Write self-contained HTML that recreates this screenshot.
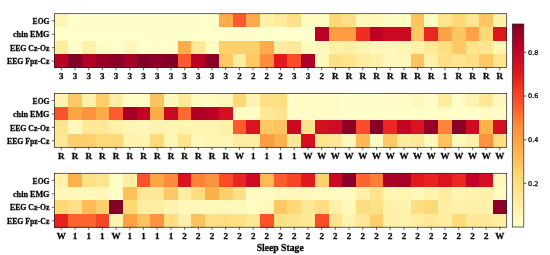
<!DOCTYPE html>
<html><head><meta charset="utf-8"><title>Sleep Stage attention heatmap</title>
<style>
html,body{margin:0;padding:0;background:#fff;}
body{width:550px;height:255px;overflow:hidden;}
svg{display:block;}
svg text{font-family:"Liberation Serif","DejaVu Serif",serif;font-weight:bold;fill:#0a0a0a;stroke:#0a0a0a;stroke-width:0.3px;}
.cb text{font-family:"DejaVu Sans","Liberation Sans",sans-serif;font-weight:normal;stroke:#111;stroke-width:0.3px;}
</style></head><body>
<svg width="550" height="255" viewBox="0 0 550 255">
<defs><linearGradient id="g" x1="0" y1="1" x2="0" y2="0"><stop offset="0.0000" stop-color="#ffffcc"/><stop offset="0.1250" stop-color="#ffeda0"/><stop offset="0.2500" stop-color="#fed976"/><stop offset="0.3750" stop-color="#feb24c"/><stop offset="0.5000" stop-color="#fd8d3c"/><stop offset="0.6250" stop-color="#fc4e2a"/><stop offset="0.7500" stop-color="#e31a1c"/><stop offset="0.8750" stop-color="#bd0026"/><stop offset="1.0000" stop-color="#800026"/></linearGradient></defs>
<rect width="550" height="255" fill="#fff"/>
<g class="panel p1">
<g shape-rendering="crispEdges">
<rect x="54.40" y="13.70" width="14.01" height="13.78" fill="#fff5b3"/><rect x="54.40" y="27.17" width="14.01" height="13.78" fill="#ffffcc"/><rect x="54.40" y="40.65" width="14.01" height="13.78" fill="#ffec9e"/><rect x="54.40" y="54.12" width="14.01" height="13.78" fill="#bb0026"/>
<rect x="68.11" y="13.70" width="14.01" height="13.78" fill="#ffffcc"/><rect x="68.11" y="27.17" width="14.01" height="13.78" fill="#ffffcc"/><rect x="68.11" y="40.65" width="14.01" height="13.78" fill="#ffffcc"/><rect x="68.11" y="54.12" width="14.01" height="13.78" fill="#800026"/>
<rect x="81.81" y="13.70" width="14.01" height="13.78" fill="#ffffcc"/><rect x="81.81" y="27.17" width="14.01" height="13.78" fill="#ffffcc"/><rect x="81.81" y="40.65" width="14.01" height="13.78" fill="#fff1a9"/><rect x="81.81" y="54.12" width="14.01" height="13.78" fill="#b10026"/>
<rect x="95.52" y="13.70" width="14.01" height="13.78" fill="#ffffcc"/><rect x="95.52" y="27.17" width="14.01" height="13.78" fill="#ffffcc"/><rect x="95.52" y="40.65" width="14.01" height="13.78" fill="#fffcc5"/><rect x="95.52" y="54.12" width="14.01" height="13.78" fill="#980026"/>
<rect x="109.22" y="13.70" width="14.01" height="13.78" fill="#ffffcc"/><rect x="109.22" y="27.17" width="14.01" height="13.78" fill="#ffffcc"/><rect x="109.22" y="40.65" width="14.01" height="13.78" fill="#ffffcc"/><rect x="109.22" y="54.12" width="14.01" height="13.78" fill="#8a0026"/>
<rect x="122.93" y="13.70" width="14.01" height="13.78" fill="#ffffcc"/><rect x="122.93" y="27.17" width="14.01" height="13.78" fill="#ffffcc"/><rect x="122.93" y="40.65" width="14.01" height="13.78" fill="#fff8ba"/><rect x="122.93" y="54.12" width="14.01" height="13.78" fill="#a20026"/>
<rect x="136.64" y="13.70" width="14.01" height="13.78" fill="#ffffcc"/><rect x="136.64" y="27.17" width="14.01" height="13.78" fill="#ffffcc"/><rect x="136.64" y="40.65" width="14.01" height="13.78" fill="#ffffcc"/><rect x="136.64" y="54.12" width="14.01" height="13.78" fill="#800026"/>
<rect x="150.34" y="13.70" width="14.01" height="13.78" fill="#ffffcc"/><rect x="150.34" y="27.17" width="14.01" height="13.78" fill="#ffffcc"/><rect x="150.34" y="40.65" width="14.01" height="13.78" fill="#fffec8"/><rect x="150.34" y="54.12" width="14.01" height="13.78" fill="#8a0026"/>
<rect x="164.05" y="13.70" width="14.01" height="13.78" fill="#ffffcc"/><rect x="164.05" y="27.17" width="14.01" height="13.78" fill="#ffffcc"/><rect x="164.05" y="40.65" width="14.01" height="13.78" fill="#ffffcc"/><rect x="164.05" y="54.12" width="14.01" height="13.78" fill="#800026"/>
<rect x="177.75" y="13.70" width="14.01" height="13.78" fill="#ffffcc"/><rect x="177.75" y="27.17" width="14.01" height="13.78" fill="#ffffcc"/><rect x="177.75" y="40.65" width="14.01" height="13.78" fill="#feab49"/><rect x="177.75" y="54.12" width="14.01" height="13.78" fill="#fc5b2e"/>
<rect x="191.46" y="13.70" width="14.01" height="13.78" fill="#ffffcc"/><rect x="191.46" y="27.17" width="14.01" height="13.78" fill="#ffffcc"/><rect x="191.46" y="40.65" width="14.01" height="13.78" fill="#ffe998"/><rect x="191.46" y="54.12" width="14.01" height="13.78" fill="#bb0026"/>
<rect x="205.17" y="13.70" width="14.01" height="13.78" fill="#ffffcc"/><rect x="205.17" y="27.17" width="14.01" height="13.78" fill="#ffffcc"/><rect x="205.17" y="40.65" width="14.01" height="13.78" fill="#fffbc1"/><rect x="205.17" y="54.12" width="14.01" height="13.78" fill="#8a0026"/>
<rect x="218.87" y="13.70" width="14.01" height="13.78" fill="#feab49"/><rect x="218.87" y="27.17" width="14.01" height="13.78" fill="#ffffcc"/><rect x="218.87" y="40.65" width="14.01" height="13.78" fill="#fed06c"/><rect x="218.87" y="54.12" width="14.01" height="13.78" fill="#fec965"/>
<rect x="232.58" y="13.70" width="14.01" height="13.78" fill="#fc5b2e"/><rect x="232.58" y="27.17" width="14.01" height="13.78" fill="#ffffcc"/><rect x="232.58" y="40.65" width="14.01" height="13.78" fill="#fed06c"/><rect x="232.58" y="54.12" width="14.01" height="13.78" fill="#ffec9e"/>
<rect x="246.28" y="13.70" width="14.01" height="13.78" fill="#feab49"/><rect x="246.28" y="27.17" width="14.01" height="13.78" fill="#ffffcc"/><rect x="246.28" y="40.65" width="14.01" height="13.78" fill="#fed06c"/><rect x="246.28" y="54.12" width="14.01" height="13.78" fill="#fec965"/>
<rect x="259.99" y="13.70" width="14.01" height="13.78" fill="#fff1a9"/><rect x="259.99" y="27.17" width="14.01" height="13.78" fill="#ffffcc"/><rect x="259.99" y="40.65" width="14.01" height="13.78" fill="#feab49"/><rect x="259.99" y="54.12" width="14.01" height="13.78" fill="#fd8d3c"/>
<rect x="273.70" y="13.70" width="14.01" height="13.78" fill="#ffeb9b"/><rect x="273.70" y="27.17" width="14.01" height="13.78" fill="#ffffcc"/><rect x="273.70" y="40.65" width="14.01" height="13.78" fill="#ffeea2"/><rect x="273.70" y="54.12" width="14.01" height="13.78" fill="#e31a1c"/>
<rect x="287.40" y="13.70" width="14.01" height="13.78" fill="#fee187"/><rect x="287.40" y="27.17" width="14.01" height="13.78" fill="#ffffcc"/><rect x="287.40" y="40.65" width="14.01" height="13.78" fill="#ffe998"/><rect x="287.40" y="54.12" width="14.01" height="13.78" fill="#fb4c29"/>
<rect x="301.11" y="13.70" width="14.01" height="13.78" fill="#fffbc1"/><rect x="301.11" y="27.17" width="14.01" height="13.78" fill="#ffffcc"/><rect x="301.11" y="40.65" width="14.01" height="13.78" fill="#fffbc1"/><rect x="301.11" y="54.12" width="14.01" height="13.78" fill="#b10026"/>
<rect x="314.82" y="13.70" width="14.01" height="13.78" fill="#fffbc1"/><rect x="314.82" y="27.17" width="14.01" height="13.78" fill="#bb0026"/><rect x="314.82" y="40.65" width="14.01" height="13.78" fill="#fff8ba"/><rect x="314.82" y="54.12" width="14.01" height="13.78" fill="#fff8ba"/>
<rect x="328.52" y="13.70" width="14.01" height="13.78" fill="#fed976"/><rect x="328.52" y="27.17" width="14.01" height="13.78" fill="#fd9c42"/><rect x="328.52" y="40.65" width="14.01" height="13.78" fill="#fff1a9"/><rect x="328.52" y="54.12" width="14.01" height="13.78" fill="#fee187"/>
<rect x="342.23" y="13.70" width="14.01" height="13.78" fill="#fee187"/><rect x="342.23" y="27.17" width="14.01" height="13.78" fill="#fd9c42"/><rect x="342.23" y="40.65" width="14.01" height="13.78" fill="#ffeea2"/><rect x="342.23" y="54.12" width="14.01" height="13.78" fill="#ffe48e"/>
<rect x="355.93" y="13.70" width="14.01" height="13.78" fill="#fff8ba"/><rect x="355.93" y="27.17" width="14.01" height="13.78" fill="#ed2f22"/><rect x="355.93" y="40.65" width="14.01" height="13.78" fill="#fff3b0"/><rect x="355.93" y="54.12" width="14.01" height="13.78" fill="#ffec9e"/>
<rect x="369.64" y="13.70" width="14.01" height="13.78" fill="#fff8ba"/><rect x="369.64" y="27.17" width="14.01" height="13.78" fill="#bb0026"/><rect x="369.64" y="40.65" width="14.01" height="13.78" fill="#fff8ba"/><rect x="369.64" y="54.12" width="14.01" height="13.78" fill="#fff1a9"/>
<rect x="383.35" y="13.70" width="14.01" height="13.78" fill="#fffbc1"/><rect x="383.35" y="27.17" width="14.01" height="13.78" fill="#cb0922"/><rect x="383.35" y="40.65" width="14.01" height="13.78" fill="#fff8ba"/><rect x="383.35" y="54.12" width="14.01" height="13.78" fill="#fff8ba"/>
<rect x="397.05" y="13.70" width="14.01" height="13.78" fill="#fffbc1"/><rect x="397.05" y="27.17" width="14.01" height="13.78" fill="#cb0922"/><rect x="397.05" y="40.65" width="14.01" height="13.78" fill="#fff5b3"/><rect x="397.05" y="54.12" width="14.01" height="13.78" fill="#fff8ba"/>
<rect x="410.76" y="13.70" width="14.01" height="13.78" fill="#fec35e"/><rect x="410.76" y="27.17" width="14.01" height="13.78" fill="#fec965"/><rect x="410.76" y="40.65" width="14.01" height="13.78" fill="#fff1a9"/><rect x="410.76" y="54.12" width="14.01" height="13.78" fill="#fec35e"/>
<rect x="424.46" y="13.70" width="14.01" height="13.78" fill="#fffbc1"/><rect x="424.46" y="27.17" width="14.01" height="13.78" fill="#e9261f"/><rect x="424.46" y="40.65" width="14.01" height="13.78" fill="#ffe998"/><rect x="424.46" y="54.12" width="14.01" height="13.78" fill="#fff1a9"/>
<rect x="438.17" y="13.70" width="14.01" height="13.78" fill="#ffe48e"/><rect x="438.17" y="27.17" width="14.01" height="13.78" fill="#fea245"/><rect x="438.17" y="40.65" width="14.01" height="13.78" fill="#fede80"/><rect x="438.17" y="54.12" width="14.01" height="13.78" fill="#fedf83"/>
<rect x="451.88" y="13.70" width="14.01" height="13.78" fill="#fed976"/><rect x="451.88" y="27.17" width="14.01" height="13.78" fill="#fec662"/><rect x="451.88" y="40.65" width="14.01" height="13.78" fill="#fec965"/><rect x="451.88" y="54.12" width="14.01" height="13.78" fill="#ffe48e"/>
<rect x="465.58" y="13.70" width="14.01" height="13.78" fill="#ffe691"/><rect x="465.58" y="27.17" width="14.01" height="13.78" fill="#fea245"/><rect x="465.58" y="40.65" width="14.01" height="13.78" fill="#ffe48e"/><rect x="465.58" y="54.12" width="14.01" height="13.78" fill="#fedf83"/>
<rect x="479.29" y="13.70" width="14.01" height="13.78" fill="#fec662"/><rect x="479.29" y="27.17" width="14.01" height="13.78" fill="#fed976"/><rect x="479.29" y="40.65" width="14.01" height="13.78" fill="#ffe691"/><rect x="479.29" y="54.12" width="14.01" height="13.78" fill="#fec965"/>
<rect x="492.99" y="13.70" width="14.01" height="13.78" fill="#fff1a9"/><rect x="492.99" y="27.17" width="14.01" height="13.78" fill="#dd161e"/><rect x="492.99" y="40.65" width="14.01" height="13.78" fill="#fff5b3"/><rect x="492.99" y="54.12" width="14.01" height="13.78" fill="#ffe48e"/>
</g>
<rect x="54.4" y="13.7" width="452.30" height="53.9" fill="none" stroke="#222" stroke-width="0.7"/>
<line x1="51.8" y1="20.74" x2="54.4" y2="20.74" stroke="#222" stroke-width="0.7"/><text x="32.60" y="23.94" textLength="16.8" lengthAdjust="spacingAndGlyphs" font-size="8.5">EOG</text>
<line x1="51.8" y1="34.21" x2="54.4" y2="34.21" stroke="#222" stroke-width="0.7"/><text x="13.00" y="37.41" textLength="36.4" lengthAdjust="spacingAndGlyphs" font-size="8.5">chin EMG</text>
<line x1="51.8" y1="47.69" x2="54.4" y2="47.69" stroke="#222" stroke-width="0.7"/><text x="10.00" y="50.89" textLength="39.4" lengthAdjust="spacingAndGlyphs" font-size="8.5">EEG Cz-Oz</text>
<line x1="51.8" y1="61.16" x2="54.4" y2="61.16" stroke="#222" stroke-width="0.7"/><text x="7.00" y="64.36" textLength="42.4" lengthAdjust="spacingAndGlyphs" font-size="8.5">EEG Fpz-Cz</text>
<line x1="61.25" y1="67.6" x2="61.25" y2="70.19999999999999" stroke="#222" stroke-width="0.7"/><text x="61.25" y="79.30" text-anchor="middle" font-size="9.0">3</text>
<line x1="74.96" y1="67.6" x2="74.96" y2="70.19999999999999" stroke="#222" stroke-width="0.7"/><text x="74.96" y="79.30" text-anchor="middle" font-size="9.0">3</text>
<line x1="88.67" y1="67.6" x2="88.67" y2="70.19999999999999" stroke="#222" stroke-width="0.7"/><text x="88.67" y="79.30" text-anchor="middle" font-size="9.0">3</text>
<line x1="102.37" y1="67.6" x2="102.37" y2="70.19999999999999" stroke="#222" stroke-width="0.7"/><text x="102.37" y="79.30" text-anchor="middle" font-size="9.0">3</text>
<line x1="116.08" y1="67.6" x2="116.08" y2="70.19999999999999" stroke="#222" stroke-width="0.7"/><text x="116.08" y="79.30" text-anchor="middle" font-size="9.0">3</text>
<line x1="129.78" y1="67.6" x2="129.78" y2="70.19999999999999" stroke="#222" stroke-width="0.7"/><text x="129.78" y="79.30" text-anchor="middle" font-size="9.0">3</text>
<line x1="143.49" y1="67.6" x2="143.49" y2="70.19999999999999" stroke="#222" stroke-width="0.7"/><text x="143.49" y="79.30" text-anchor="middle" font-size="9.0">3</text>
<line x1="157.20" y1="67.6" x2="157.20" y2="70.19999999999999" stroke="#222" stroke-width="0.7"/><text x="157.20" y="79.30" text-anchor="middle" font-size="9.0">3</text>
<line x1="170.90" y1="67.6" x2="170.90" y2="70.19999999999999" stroke="#222" stroke-width="0.7"/><text x="170.90" y="79.30" text-anchor="middle" font-size="9.0">3</text>
<line x1="184.61" y1="67.6" x2="184.61" y2="70.19999999999999" stroke="#222" stroke-width="0.7"/><text x="184.61" y="79.30" text-anchor="middle" font-size="9.0">3</text>
<line x1="198.31" y1="67.6" x2="198.31" y2="70.19999999999999" stroke="#222" stroke-width="0.7"/><text x="198.31" y="79.30" text-anchor="middle" font-size="9.0">3</text>
<line x1="212.02" y1="67.6" x2="212.02" y2="70.19999999999999" stroke="#222" stroke-width="0.7"/><text x="212.02" y="79.30" text-anchor="middle" font-size="9.0">3</text>
<line x1="225.73" y1="67.6" x2="225.73" y2="70.19999999999999" stroke="#222" stroke-width="0.7"/><text x="225.73" y="79.30" text-anchor="middle" font-size="9.0">3</text>
<line x1="239.43" y1="67.6" x2="239.43" y2="70.19999999999999" stroke="#222" stroke-width="0.7"/><text x="239.43" y="79.30" text-anchor="middle" font-size="9.0">2</text>
<line x1="253.14" y1="67.6" x2="253.14" y2="70.19999999999999" stroke="#222" stroke-width="0.7"/><text x="253.14" y="79.30" text-anchor="middle" font-size="9.0">2</text>
<line x1="266.84" y1="67.6" x2="266.84" y2="70.19999999999999" stroke="#222" stroke-width="0.7"/><text x="266.84" y="79.30" text-anchor="middle" font-size="9.0">2</text>
<line x1="280.55" y1="67.6" x2="280.55" y2="70.19999999999999" stroke="#222" stroke-width="0.7"/><text x="280.55" y="79.30" text-anchor="middle" font-size="9.0">2</text>
<line x1="294.26" y1="67.6" x2="294.26" y2="70.19999999999999" stroke="#222" stroke-width="0.7"/><text x="294.26" y="79.30" text-anchor="middle" font-size="9.0">3</text>
<line x1="307.96" y1="67.6" x2="307.96" y2="70.19999999999999" stroke="#222" stroke-width="0.7"/><text x="307.96" y="79.30" text-anchor="middle" font-size="9.0">3</text>
<line x1="321.67" y1="67.6" x2="321.67" y2="70.19999999999999" stroke="#222" stroke-width="0.7"/><text x="321.67" y="79.30" text-anchor="middle" font-size="9.0">2</text>
<line x1="335.37" y1="67.6" x2="335.37" y2="70.19999999999999" stroke="#222" stroke-width="0.7"/><text x="335.37" y="79.30" text-anchor="middle" font-size="9.0">R</text>
<line x1="349.08" y1="67.6" x2="349.08" y2="70.19999999999999" stroke="#222" stroke-width="0.7"/><text x="349.08" y="79.30" text-anchor="middle" font-size="9.0">R</text>
<line x1="362.79" y1="67.6" x2="362.79" y2="70.19999999999999" stroke="#222" stroke-width="0.7"/><text x="362.79" y="79.30" text-anchor="middle" font-size="9.0">R</text>
<line x1="376.49" y1="67.6" x2="376.49" y2="70.19999999999999" stroke="#222" stroke-width="0.7"/><text x="376.49" y="79.30" text-anchor="middle" font-size="9.0">R</text>
<line x1="390.20" y1="67.6" x2="390.20" y2="70.19999999999999" stroke="#222" stroke-width="0.7"/><text x="390.20" y="79.30" text-anchor="middle" font-size="9.0">R</text>
<line x1="403.90" y1="67.6" x2="403.90" y2="70.19999999999999" stroke="#222" stroke-width="0.7"/><text x="403.90" y="79.30" text-anchor="middle" font-size="9.0">R</text>
<line x1="417.61" y1="67.6" x2="417.61" y2="70.19999999999999" stroke="#222" stroke-width="0.7"/><text x="417.61" y="79.30" text-anchor="middle" font-size="9.0">R</text>
<line x1="431.32" y1="67.6" x2="431.32" y2="70.19999999999999" stroke="#222" stroke-width="0.7"/><text x="431.32" y="79.30" text-anchor="middle" font-size="9.0">R</text>
<line x1="445.02" y1="67.6" x2="445.02" y2="70.19999999999999" stroke="#222" stroke-width="0.7"/><text x="445.02" y="79.30" text-anchor="middle" font-size="9.0">1</text>
<line x1="458.73" y1="67.6" x2="458.73" y2="70.19999999999999" stroke="#222" stroke-width="0.7"/><text x="458.73" y="79.30" text-anchor="middle" font-size="9.0">R</text>
<line x1="472.43" y1="67.6" x2="472.43" y2="70.19999999999999" stroke="#222" stroke-width="0.7"/><text x="472.43" y="79.30" text-anchor="middle" font-size="9.0">R</text>
<line x1="486.14" y1="67.6" x2="486.14" y2="70.19999999999999" stroke="#222" stroke-width="0.7"/><text x="486.14" y="79.30" text-anchor="middle" font-size="9.0">R</text>
<line x1="499.85" y1="67.6" x2="499.85" y2="70.19999999999999" stroke="#222" stroke-width="0.7"/><text x="499.85" y="79.30" text-anchor="middle" font-size="9.0">R</text>
</g>
<g class="panel p2">
<g shape-rendering="crispEdges">
<rect x="54.40" y="93.40" width="14.01" height="13.78" fill="#fff3b0"/><rect x="54.40" y="106.88" width="14.01" height="13.78" fill="#fc512b"/><rect x="54.40" y="120.35" width="14.01" height="13.78" fill="#ffe48e"/><rect x="54.40" y="133.82" width="14.01" height="13.78" fill="#ffe998"/>
<rect x="68.11" y="93.40" width="14.01" height="13.78" fill="#fec965"/><rect x="68.11" y="106.88" width="14.01" height="13.78" fill="#fea546"/><rect x="68.11" y="120.35" width="14.01" height="13.78" fill="#fff8ba"/><rect x="68.11" y="133.82" width="14.01" height="13.78" fill="#fed06c"/>
<rect x="81.81" y="93.40" width="14.01" height="13.78" fill="#fff1a9"/><rect x="81.81" y="106.88" width="14.01" height="13.78" fill="#fd933f"/><rect x="81.81" y="120.35" width="14.01" height="13.78" fill="#ffe998"/><rect x="81.81" y="133.82" width="14.01" height="13.78" fill="#fed06c"/>
<rect x="95.52" y="93.40" width="14.01" height="13.78" fill="#fed06c"/><rect x="95.52" y="106.88" width="14.01" height="13.78" fill="#feab49"/><rect x="95.52" y="120.35" width="14.01" height="13.78" fill="#ffe998"/><rect x="95.52" y="133.82" width="14.01" height="13.78" fill="#fed976"/>
<rect x="109.22" y="93.40" width="14.01" height="13.78" fill="#ffeea2"/><rect x="109.22" y="106.88" width="14.01" height="13.78" fill="#fc5b2e"/><rect x="109.22" y="120.35" width="14.01" height="13.78" fill="#fff1a9"/><rect x="109.22" y="133.82" width="14.01" height="13.78" fill="#fed976"/>
<rect x="122.93" y="93.40" width="14.01" height="13.78" fill="#fffcc5"/><rect x="122.93" y="106.88" width="14.01" height="13.78" fill="#a70026"/><rect x="122.93" y="120.35" width="14.01" height="13.78" fill="#fff5b3"/><rect x="122.93" y="133.82" width="14.01" height="13.78" fill="#fff3b0"/>
<rect x="136.64" y="93.40" width="14.01" height="13.78" fill="#fffcc5"/><rect x="136.64" y="106.88" width="14.01" height="13.78" fill="#c20325"/><rect x="136.64" y="120.35" width="14.01" height="13.78" fill="#fff8ba"/><rect x="136.64" y="133.82" width="14.01" height="13.78" fill="#fff3b0"/>
<rect x="150.34" y="93.40" width="14.01" height="13.78" fill="#fec35e"/><rect x="150.34" y="106.88" width="14.01" height="13.78" fill="#feab49"/><rect x="150.34" y="120.35" width="14.01" height="13.78" fill="#fff3b0"/><rect x="150.34" y="133.82" width="14.01" height="13.78" fill="#fed976"/>
<rect x="164.05" y="93.40" width="14.01" height="13.78" fill="#fff8ba"/><rect x="164.05" y="106.88" width="14.01" height="13.78" fill="#cb0922"/><rect x="164.05" y="120.35" width="14.01" height="13.78" fill="#fff5b3"/><rect x="164.05" y="133.82" width="14.01" height="13.78" fill="#fff5b3"/>
<rect x="177.75" y="93.40" width="14.01" height="13.78" fill="#ffe998"/><rect x="177.75" y="106.88" width="14.01" height="13.78" fill="#fc6a32"/><rect x="177.75" y="120.35" width="14.01" height="13.78" fill="#fff5b3"/><rect x="177.75" y="133.82" width="14.01" height="13.78" fill="#ffe48e"/>
<rect x="191.46" y="93.40" width="14.01" height="13.78" fill="#fffbc1"/><rect x="191.46" y="106.88" width="14.01" height="13.78" fill="#b10026"/><rect x="191.46" y="120.35" width="14.01" height="13.78" fill="#fff5b3"/><rect x="191.46" y="133.82" width="14.01" height="13.78" fill="#fff8ba"/>
<rect x="205.17" y="93.40" width="14.01" height="13.78" fill="#fffbc1"/><rect x="205.17" y="106.88" width="14.01" height="13.78" fill="#bb0026"/><rect x="205.17" y="120.35" width="14.01" height="13.78" fill="#fff5b3"/><rect x="205.17" y="133.82" width="14.01" height="13.78" fill="#fff5b3"/>
<rect x="218.87" y="93.40" width="14.01" height="13.78" fill="#fff8ba"/><rect x="218.87" y="106.88" width="14.01" height="13.78" fill="#d41020"/><rect x="218.87" y="120.35" width="14.01" height="13.78" fill="#fff1a9"/><rect x="218.87" y="133.82" width="14.01" height="13.78" fill="#fff5b3"/>
<rect x="232.58" y="93.40" width="14.01" height="13.78" fill="#fed976"/><rect x="232.58" y="106.88" width="14.01" height="13.78" fill="#fffbc1"/><rect x="232.58" y="120.35" width="14.01" height="13.78" fill="#fc5b2e"/><rect x="232.58" y="133.82" width="14.01" height="13.78" fill="#ffeea2"/>
<rect x="246.28" y="93.40" width="14.01" height="13.78" fill="#fff3b0"/><rect x="246.28" y="106.88" width="14.01" height="13.78" fill="#fffcc5"/><rect x="246.28" y="120.35" width="14.01" height="13.78" fill="#da141e"/><rect x="246.28" y="133.82" width="14.01" height="13.78" fill="#ffeea2"/>
<rect x="259.99" y="93.40" width="14.01" height="13.78" fill="#fee187"/><rect x="259.99" y="106.88" width="14.01" height="13.78" fill="#ffe998"/><rect x="259.99" y="120.35" width="14.01" height="13.78" fill="#fec965"/><rect x="259.99" y="133.82" width="14.01" height="13.78" fill="#fd9c42"/>
<rect x="273.70" y="93.40" width="14.01" height="13.78" fill="#fede80"/><rect x="273.70" y="106.88" width="14.01" height="13.78" fill="#ffe48e"/><rect x="273.70" y="120.35" width="14.01" height="13.78" fill="#fec35e"/><rect x="273.70" y="133.82" width="14.01" height="13.78" fill="#feb14b"/>
<rect x="287.40" y="93.40" width="14.01" height="13.78" fill="#fffcc5"/><rect x="287.40" y="106.88" width="14.01" height="13.78" fill="#fffcc5"/><rect x="287.40" y="120.35" width="14.01" height="13.78" fill="#cb0922"/><rect x="287.40" y="133.82" width="14.01" height="13.78" fill="#ffe998"/>
<rect x="301.11" y="93.40" width="14.01" height="13.78" fill="#fffcc5"/><rect x="301.11" y="106.88" width="14.01" height="13.78" fill="#fffcc5"/><rect x="301.11" y="120.35" width="14.01" height="13.78" fill="#ffe48e"/><rect x="301.11" y="133.82" width="14.01" height="13.78" fill="#d41020"/>
<rect x="314.82" y="93.40" width="14.01" height="13.78" fill="#fffcc5"/><rect x="314.82" y="106.88" width="14.01" height="13.78" fill="#fffcc5"/><rect x="314.82" y="120.35" width="14.01" height="13.78" fill="#d41020"/><rect x="314.82" y="133.82" width="14.01" height="13.78" fill="#ffe48e"/>
<rect x="328.52" y="93.40" width="14.01" height="13.78" fill="#fffcc5"/><rect x="328.52" y="106.88" width="14.01" height="13.78" fill="#fffcc5"/><rect x="328.52" y="120.35" width="14.01" height="13.78" fill="#ce0b22"/><rect x="328.52" y="133.82" width="14.01" height="13.78" fill="#ffe998"/>
<rect x="342.23" y="93.40" width="14.01" height="13.78" fill="#fffec8"/><rect x="342.23" y="106.88" width="14.01" height="13.78" fill="#fffec8"/><rect x="342.23" y="120.35" width="14.01" height="13.78" fill="#8f0026"/><rect x="342.23" y="133.82" width="14.01" height="13.78" fill="#fff8ba"/>
<rect x="355.93" y="93.40" width="14.01" height="13.78" fill="#fffec8"/><rect x="355.93" y="106.88" width="14.01" height="13.78" fill="#fffec8"/><rect x="355.93" y="120.35" width="14.01" height="13.78" fill="#fb4c29"/><rect x="355.93" y="133.82" width="14.01" height="13.78" fill="#feba54"/>
<rect x="369.64" y="93.40" width="14.01" height="13.78" fill="#fffec8"/><rect x="369.64" y="106.88" width="14.01" height="13.78" fill="#fffec8"/><rect x="369.64" y="120.35" width="14.01" height="13.78" fill="#8a0026"/><rect x="369.64" y="133.82" width="14.01" height="13.78" fill="#fffbc1"/>
<rect x="383.35" y="93.40" width="14.01" height="13.78" fill="#fffcc5"/><rect x="383.35" y="106.88" width="14.01" height="13.78" fill="#fffec8"/><rect x="383.35" y="120.35" width="14.01" height="13.78" fill="#e9261f"/><rect x="383.35" y="133.82" width="14.01" height="13.78" fill="#fec965"/>
<rect x="397.05" y="93.40" width="14.01" height="13.78" fill="#fffcc5"/><rect x="397.05" y="106.88" width="14.01" height="13.78" fill="#fffec8"/><rect x="397.05" y="120.35" width="14.01" height="13.78" fill="#c50524"/><rect x="397.05" y="133.82" width="14.01" height="13.78" fill="#ffec9e"/>
<rect x="410.76" y="93.40" width="14.01" height="13.78" fill="#fff8ba"/><rect x="410.76" y="106.88" width="14.01" height="13.78" fill="#fffec8"/><rect x="410.76" y="120.35" width="14.01" height="13.78" fill="#da141e"/><rect x="410.76" y="133.82" width="14.01" height="13.78" fill="#ffe998"/>
<rect x="424.46" y="93.40" width="14.01" height="13.78" fill="#fffcc5"/><rect x="424.46" y="106.88" width="14.01" height="13.78" fill="#fffec8"/><rect x="424.46" y="120.35" width="14.01" height="13.78" fill="#940026"/><rect x="424.46" y="133.82" width="14.01" height="13.78" fill="#fff8ba"/>
<rect x="438.17" y="93.40" width="14.01" height="13.78" fill="#ffec9e"/><rect x="438.17" y="106.88" width="14.01" height="13.78" fill="#fffcc5"/><rect x="438.17" y="120.35" width="14.01" height="13.78" fill="#fd8339"/><rect x="438.17" y="133.82" width="14.01" height="13.78" fill="#fec35e"/>
<rect x="451.88" y="93.40" width="14.01" height="13.78" fill="#fffcc5"/><rect x="451.88" y="106.88" width="14.01" height="13.78" fill="#fffec8"/><rect x="451.88" y="120.35" width="14.01" height="13.78" fill="#8a0026"/><rect x="451.88" y="133.82" width="14.01" height="13.78" fill="#fff8ba"/>
<rect x="465.58" y="93.40" width="14.01" height="13.78" fill="#fff3b0"/><rect x="465.58" y="106.88" width="14.01" height="13.78" fill="#fffec8"/><rect x="465.58" y="120.35" width="14.01" height="13.78" fill="#ce0b22"/><rect x="465.58" y="133.82" width="14.01" height="13.78" fill="#fff1a9"/>
<rect x="479.29" y="93.40" width="14.01" height="13.78" fill="#ffe998"/><rect x="479.29" y="106.88" width="14.01" height="13.78" fill="#fffbc1"/><rect x="479.29" y="120.35" width="14.01" height="13.78" fill="#feb14b"/><rect x="479.29" y="133.82" width="14.01" height="13.78" fill="#fd933f"/>
<rect x="492.99" y="93.40" width="14.01" height="13.78" fill="#fff8ba"/><rect x="492.99" y="106.88" width="14.01" height="13.78" fill="#fffcc5"/><rect x="492.99" y="120.35" width="14.01" height="13.78" fill="#d41020"/><rect x="492.99" y="133.82" width="14.01" height="13.78" fill="#fede80"/>
</g>
<rect x="54.4" y="93.4" width="452.30" height="53.9" fill="none" stroke="#222" stroke-width="0.7"/>
<line x1="51.8" y1="100.44" x2="54.4" y2="100.44" stroke="#222" stroke-width="0.7"/><text x="32.60" y="103.64" textLength="16.8" lengthAdjust="spacingAndGlyphs" font-size="8.5">EOG</text>
<line x1="51.8" y1="113.91" x2="54.4" y2="113.91" stroke="#222" stroke-width="0.7"/><text x="13.00" y="117.11" textLength="36.4" lengthAdjust="spacingAndGlyphs" font-size="8.5">chin EMG</text>
<line x1="51.8" y1="127.39" x2="54.4" y2="127.39" stroke="#222" stroke-width="0.7"/><text x="10.00" y="130.59" textLength="39.4" lengthAdjust="spacingAndGlyphs" font-size="8.5">EEG Cz-Oz</text>
<line x1="51.8" y1="140.86" x2="54.4" y2="140.86" stroke="#222" stroke-width="0.7"/><text x="7.00" y="144.06" textLength="42.4" lengthAdjust="spacingAndGlyphs" font-size="8.5">EEG Fpz-Cz</text>
<line x1="61.25" y1="147.3" x2="61.25" y2="149.9" stroke="#222" stroke-width="0.7"/><text x="61.25" y="159.00" text-anchor="middle" font-size="9.0">R</text>
<line x1="74.96" y1="147.3" x2="74.96" y2="149.9" stroke="#222" stroke-width="0.7"/><text x="74.96" y="159.00" text-anchor="middle" font-size="9.0">R</text>
<line x1="88.67" y1="147.3" x2="88.67" y2="149.9" stroke="#222" stroke-width="0.7"/><text x="88.67" y="159.00" text-anchor="middle" font-size="9.0">R</text>
<line x1="102.37" y1="147.3" x2="102.37" y2="149.9" stroke="#222" stroke-width="0.7"/><text x="102.37" y="159.00" text-anchor="middle" font-size="9.0">R</text>
<line x1="116.08" y1="147.3" x2="116.08" y2="149.9" stroke="#222" stroke-width="0.7"/><text x="116.08" y="159.00" text-anchor="middle" font-size="9.0">R</text>
<line x1="129.78" y1="147.3" x2="129.78" y2="149.9" stroke="#222" stroke-width="0.7"/><text x="129.78" y="159.00" text-anchor="middle" font-size="9.0">R</text>
<line x1="143.49" y1="147.3" x2="143.49" y2="149.9" stroke="#222" stroke-width="0.7"/><text x="143.49" y="159.00" text-anchor="middle" font-size="9.0">R</text>
<line x1="157.20" y1="147.3" x2="157.20" y2="149.9" stroke="#222" stroke-width="0.7"/><text x="157.20" y="159.00" text-anchor="middle" font-size="9.0">R</text>
<line x1="170.90" y1="147.3" x2="170.90" y2="149.9" stroke="#222" stroke-width="0.7"/><text x="170.90" y="159.00" text-anchor="middle" font-size="9.0">R</text>
<line x1="184.61" y1="147.3" x2="184.61" y2="149.9" stroke="#222" stroke-width="0.7"/><text x="184.61" y="159.00" text-anchor="middle" font-size="9.0">R</text>
<line x1="198.31" y1="147.3" x2="198.31" y2="149.9" stroke="#222" stroke-width="0.7"/><text x="198.31" y="159.00" text-anchor="middle" font-size="9.0">R</text>
<line x1="212.02" y1="147.3" x2="212.02" y2="149.9" stroke="#222" stroke-width="0.7"/><text x="212.02" y="159.00" text-anchor="middle" font-size="9.0">R</text>
<line x1="225.73" y1="147.3" x2="225.73" y2="149.9" stroke="#222" stroke-width="0.7"/><text x="225.73" y="159.00" text-anchor="middle" font-size="9.0">R</text>
<line x1="239.43" y1="147.3" x2="239.43" y2="149.9" stroke="#222" stroke-width="0.7"/><text x="239.43" y="159.00" text-anchor="middle" font-size="9.0">W</text>
<line x1="253.14" y1="147.3" x2="253.14" y2="149.9" stroke="#222" stroke-width="0.7"/><text x="253.14" y="159.00" text-anchor="middle" font-size="9.0">1</text>
<line x1="266.84" y1="147.3" x2="266.84" y2="149.9" stroke="#222" stroke-width="0.7"/><text x="266.84" y="159.00" text-anchor="middle" font-size="9.0">1</text>
<line x1="280.55" y1="147.3" x2="280.55" y2="149.9" stroke="#222" stroke-width="0.7"/><text x="280.55" y="159.00" text-anchor="middle" font-size="9.0">1</text>
<line x1="294.26" y1="147.3" x2="294.26" y2="149.9" stroke="#222" stroke-width="0.7"/><text x="294.26" y="159.00" text-anchor="middle" font-size="9.0">1</text>
<line x1="307.96" y1="147.3" x2="307.96" y2="149.9" stroke="#222" stroke-width="0.7"/><text x="307.96" y="159.00" text-anchor="middle" font-size="9.0">W</text>
<line x1="321.67" y1="147.3" x2="321.67" y2="149.9" stroke="#222" stroke-width="0.7"/><text x="321.67" y="159.00" text-anchor="middle" font-size="9.0">W</text>
<line x1="335.37" y1="147.3" x2="335.37" y2="149.9" stroke="#222" stroke-width="0.7"/><text x="335.37" y="159.00" text-anchor="middle" font-size="9.0">W</text>
<line x1="349.08" y1="147.3" x2="349.08" y2="149.9" stroke="#222" stroke-width="0.7"/><text x="349.08" y="159.00" text-anchor="middle" font-size="9.0">W</text>
<line x1="362.79" y1="147.3" x2="362.79" y2="149.9" stroke="#222" stroke-width="0.7"/><text x="362.79" y="159.00" text-anchor="middle" font-size="9.0">W</text>
<line x1="376.49" y1="147.3" x2="376.49" y2="149.9" stroke="#222" stroke-width="0.7"/><text x="376.49" y="159.00" text-anchor="middle" font-size="9.0">W</text>
<line x1="390.20" y1="147.3" x2="390.20" y2="149.9" stroke="#222" stroke-width="0.7"/><text x="390.20" y="159.00" text-anchor="middle" font-size="9.0">W</text>
<line x1="403.90" y1="147.3" x2="403.90" y2="149.9" stroke="#222" stroke-width="0.7"/><text x="403.90" y="159.00" text-anchor="middle" font-size="9.0">W</text>
<line x1="417.61" y1="147.3" x2="417.61" y2="149.9" stroke="#222" stroke-width="0.7"/><text x="417.61" y="159.00" text-anchor="middle" font-size="9.0">W</text>
<line x1="431.32" y1="147.3" x2="431.32" y2="149.9" stroke="#222" stroke-width="0.7"/><text x="431.32" y="159.00" text-anchor="middle" font-size="9.0">W</text>
<line x1="445.02" y1="147.3" x2="445.02" y2="149.9" stroke="#222" stroke-width="0.7"/><text x="445.02" y="159.00" text-anchor="middle" font-size="9.0">W</text>
<line x1="458.73" y1="147.3" x2="458.73" y2="149.9" stroke="#222" stroke-width="0.7"/><text x="458.73" y="159.00" text-anchor="middle" font-size="9.0">W</text>
<line x1="472.43" y1="147.3" x2="472.43" y2="149.9" stroke="#222" stroke-width="0.7"/><text x="472.43" y="159.00" text-anchor="middle" font-size="9.0">W</text>
<line x1="486.14" y1="147.3" x2="486.14" y2="149.9" stroke="#222" stroke-width="0.7"/><text x="486.14" y="159.00" text-anchor="middle" font-size="9.0">W</text>
<line x1="499.85" y1="147.3" x2="499.85" y2="149.9" stroke="#222" stroke-width="0.7"/><text x="499.85" y="159.00" text-anchor="middle" font-size="9.0">W</text>
</g>
<g class="panel p3">
<g shape-rendering="crispEdges">
<rect x="54.40" y="173.30" width="14.01" height="13.78" fill="#fff1a9"/><rect x="54.40" y="186.78" width="14.01" height="13.78" fill="#fff8ba"/><rect x="54.40" y="200.25" width="14.01" height="13.78" fill="#fed976"/><rect x="54.40" y="213.73" width="14.01" height="13.78" fill="#e7221e"/>
<rect x="68.11" y="173.30" width="14.01" height="13.78" fill="#feb14b"/><rect x="68.11" y="186.78" width="14.01" height="13.78" fill="#fff8ba"/><rect x="68.11" y="200.25" width="14.01" height="13.78" fill="#fee187"/><rect x="68.11" y="213.73" width="14.01" height="13.78" fill="#fc6530"/>
<rect x="81.81" y="173.30" width="14.01" height="13.78" fill="#fee187"/><rect x="81.81" y="186.78" width="14.01" height="13.78" fill="#fff8ba"/><rect x="81.81" y="200.25" width="14.01" height="13.78" fill="#feba54"/><rect x="81.81" y="213.73" width="14.01" height="13.78" fill="#fc6530"/>
<rect x="95.52" y="173.30" width="14.01" height="13.78" fill="#ffe48e"/><rect x="95.52" y="186.78" width="14.01" height="13.78" fill="#fff8ba"/><rect x="95.52" y="200.25" width="14.01" height="13.78" fill="#fed06c"/><rect x="95.52" y="213.73" width="14.01" height="13.78" fill="#f74427"/>
<rect x="109.22" y="173.30" width="14.01" height="13.78" fill="#fffcc5"/><rect x="109.22" y="186.78" width="14.01" height="13.78" fill="#fffcc5"/><rect x="109.22" y="200.25" width="14.01" height="13.78" fill="#800026"/><rect x="109.22" y="213.73" width="14.01" height="13.78" fill="#fff3b0"/>
<rect x="122.93" y="173.30" width="14.01" height="13.78" fill="#ffeea2"/><rect x="122.93" y="186.78" width="14.01" height="13.78" fill="#fec05b"/><rect x="122.93" y="200.25" width="14.01" height="13.78" fill="#fed976"/><rect x="122.93" y="213.73" width="14.01" height="13.78" fill="#fea245"/>
<rect x="136.64" y="173.30" width="14.01" height="13.78" fill="#fc512b"/><rect x="136.64" y="186.78" width="14.01" height="13.78" fill="#ffe998"/><rect x="136.64" y="200.25" width="14.01" height="13.78" fill="#ffeea2"/><rect x="136.64" y="213.73" width="14.01" height="13.78" fill="#fec35e"/>
<rect x="150.34" y="173.30" width="14.01" height="13.78" fill="#fea546"/><rect x="150.34" y="186.78" width="14.01" height="13.78" fill="#ffe998"/><rect x="150.34" y="200.25" width="14.01" height="13.78" fill="#ffeea2"/><rect x="150.34" y="213.73" width="14.01" height="13.78" fill="#fd933f"/>
<rect x="164.05" y="173.30" width="14.01" height="13.78" fill="#fd8d3c"/><rect x="164.05" y="186.78" width="14.01" height="13.78" fill="#fec965"/><rect x="164.05" y="200.25" width="14.01" height="13.78" fill="#fff3b0"/><rect x="164.05" y="213.73" width="14.01" height="13.78" fill="#fede80"/>
<rect x="177.75" y="173.30" width="14.01" height="13.78" fill="#da141e"/><rect x="177.75" y="186.78" width="14.01" height="13.78" fill="#ffeea2"/><rect x="177.75" y="200.25" width="14.01" height="13.78" fill="#fff8ba"/><rect x="177.75" y="213.73" width="14.01" height="13.78" fill="#fff1a9"/>
<rect x="191.46" y="173.30" width="14.01" height="13.78" fill="#fd8339"/><rect x="191.46" y="186.78" width="14.01" height="13.78" fill="#fede80"/><rect x="191.46" y="200.25" width="14.01" height="13.78" fill="#fff8ba"/><rect x="191.46" y="213.73" width="14.01" height="13.78" fill="#fec35e"/>
<rect x="205.17" y="173.30" width="14.01" height="13.78" fill="#fd933f"/><rect x="205.17" y="186.78" width="14.01" height="13.78" fill="#feb14b"/><rect x="205.17" y="200.25" width="14.01" height="13.78" fill="#fff8ba"/><rect x="205.17" y="213.73" width="14.01" height="13.78" fill="#fee187"/>
<rect x="218.87" y="173.30" width="14.01" height="13.78" fill="#fb4c29"/><rect x="218.87" y="186.78" width="14.01" height="13.78" fill="#fed06c"/><rect x="218.87" y="200.25" width="14.01" height="13.78" fill="#fff8ba"/><rect x="218.87" y="213.73" width="14.01" height="13.78" fill="#fede80"/>
<rect x="232.58" y="173.30" width="14.01" height="13.78" fill="#e9261f"/><rect x="232.58" y="186.78" width="14.01" height="13.78" fill="#fee187"/><rect x="232.58" y="200.25" width="14.01" height="13.78" fill="#fff8ba"/><rect x="232.58" y="213.73" width="14.01" height="13.78" fill="#fee187"/>
<rect x="246.28" y="173.30" width="14.01" height="13.78" fill="#ce0b22"/><rect x="246.28" y="186.78" width="14.01" height="13.78" fill="#fffbc1"/><rect x="246.28" y="200.25" width="14.01" height="13.78" fill="#fffbc1"/><rect x="246.28" y="213.73" width="14.01" height="13.78" fill="#ffe998"/>
<rect x="259.99" y="173.30" width="14.01" height="13.78" fill="#feba54"/><rect x="259.99" y="186.78" width="14.01" height="13.78" fill="#fffbc1"/><rect x="259.99" y="200.25" width="14.01" height="13.78" fill="#fff8ba"/><rect x="259.99" y="213.73" width="14.01" height="13.78" fill="#fc512b"/>
<rect x="273.70" y="173.30" width="14.01" height="13.78" fill="#fc5b2e"/><rect x="273.70" y="186.78" width="14.01" height="13.78" fill="#fff8ba"/><rect x="273.70" y="200.25" width="14.01" height="13.78" fill="#fec965"/><rect x="273.70" y="213.73" width="14.01" height="13.78" fill="#fee187"/>
<rect x="287.40" y="173.30" width="14.01" height="13.78" fill="#f74427"/><rect x="287.40" y="186.78" width="14.01" height="13.78" fill="#fff8ba"/><rect x="287.40" y="200.25" width="14.01" height="13.78" fill="#fed976"/><rect x="287.40" y="213.73" width="14.01" height="13.78" fill="#ffe48e"/>
<rect x="301.11" y="173.30" width="14.01" height="13.78" fill="#e31a1c"/><rect x="301.11" y="186.78" width="14.01" height="13.78" fill="#fff8ba"/><rect x="301.11" y="200.25" width="14.01" height="13.78" fill="#ffe998"/><rect x="301.11" y="213.73" width="14.01" height="13.78" fill="#ffe998"/>
<rect x="314.82" y="173.30" width="14.01" height="13.78" fill="#fed36f"/><rect x="314.82" y="186.78" width="14.01" height="13.78" fill="#fffbc1"/><rect x="314.82" y="200.25" width="14.01" height="13.78" fill="#fede80"/><rect x="314.82" y="213.73" width="14.01" height="13.78" fill="#fb4c29"/>
<rect x="328.52" y="173.30" width="14.01" height="13.78" fill="#cb0922"/><rect x="328.52" y="186.78" width="14.01" height="13.78" fill="#fffbc1"/><rect x="328.52" y="200.25" width="14.01" height="13.78" fill="#fff1a9"/><rect x="328.52" y="213.73" width="14.01" height="13.78" fill="#ffe48e"/>
<rect x="342.23" y="173.30" width="14.01" height="13.78" fill="#8a0026"/><rect x="342.23" y="186.78" width="14.01" height="13.78" fill="#fffbc1"/><rect x="342.23" y="200.25" width="14.01" height="13.78" fill="#fff8ba"/><rect x="342.23" y="213.73" width="14.01" height="13.78" fill="#fff3b0"/>
<rect x="355.93" y="173.30" width="14.01" height="13.78" fill="#fc6530"/><rect x="355.93" y="186.78" width="14.01" height="13.78" fill="#fff1a9"/><rect x="355.93" y="200.25" width="14.01" height="13.78" fill="#fede80"/><rect x="355.93" y="213.73" width="14.01" height="13.78" fill="#ffe998"/>
<rect x="369.64" y="173.30" width="14.01" height="13.78" fill="#fd7e38"/><rect x="369.64" y="186.78" width="14.01" height="13.78" fill="#ffe48e"/><rect x="369.64" y="200.25" width="14.01" height="13.78" fill="#fee187"/><rect x="369.64" y="213.73" width="14.01" height="13.78" fill="#fed06c"/>
<rect x="383.35" y="173.30" width="14.01" height="13.78" fill="#ac0026"/><rect x="383.35" y="186.78" width="14.01" height="13.78" fill="#fff5b3"/><rect x="383.35" y="200.25" width="14.01" height="13.78" fill="#fff1a9"/><rect x="383.35" y="213.73" width="14.01" height="13.78" fill="#fff1a9"/>
<rect x="397.05" y="173.30" width="14.01" height="13.78" fill="#a70026"/><rect x="397.05" y="186.78" width="14.01" height="13.78" fill="#fff5b3"/><rect x="397.05" y="200.25" width="14.01" height="13.78" fill="#fff3b0"/><rect x="397.05" y="213.73" width="14.01" height="13.78" fill="#fff3b0"/>
<rect x="410.76" y="173.30" width="14.01" height="13.78" fill="#e31a1c"/><rect x="410.76" y="186.78" width="14.01" height="13.78" fill="#fff8ba"/><rect x="410.76" y="200.25" width="14.01" height="13.78" fill="#fede80"/><rect x="410.76" y="213.73" width="14.01" height="13.78" fill="#ffeea2"/>
<rect x="424.46" y="173.30" width="14.01" height="13.78" fill="#e7221e"/><rect x="424.46" y="186.78" width="14.01" height="13.78" fill="#fff3b0"/><rect x="424.46" y="200.25" width="14.01" height="13.78" fill="#fed976"/><rect x="424.46" y="213.73" width="14.01" height="13.78" fill="#ffe998"/>
<rect x="438.17" y="173.30" width="14.01" height="13.78" fill="#da141e"/><rect x="438.17" y="186.78" width="14.01" height="13.78" fill="#ffeea2"/><rect x="438.17" y="200.25" width="14.01" height="13.78" fill="#ffeea2"/><rect x="438.17" y="213.73" width="14.01" height="13.78" fill="#ffeea2"/>
<rect x="451.88" y="173.30" width="14.01" height="13.78" fill="#e9261f"/><rect x="451.88" y="186.78" width="14.01" height="13.78" fill="#fff5b3"/><rect x="451.88" y="200.25" width="14.01" height="13.78" fill="#fff1a9"/><rect x="451.88" y="213.73" width="14.01" height="13.78" fill="#fedb79"/>
<rect x="465.58" y="173.30" width="14.01" height="13.78" fill="#c20325"/><rect x="465.58" y="186.78" width="14.01" height="13.78" fill="#fff3b0"/><rect x="465.58" y="200.25" width="14.01" height="13.78" fill="#fff1a9"/><rect x="465.58" y="213.73" width="14.01" height="13.78" fill="#ffe998"/>
<rect x="479.29" y="173.30" width="14.01" height="13.78" fill="#d41020"/><rect x="479.29" y="186.78" width="14.01" height="13.78" fill="#fff1a9"/><rect x="479.29" y="200.25" width="14.01" height="13.78" fill="#fff1a9"/><rect x="479.29" y="213.73" width="14.01" height="13.78" fill="#ffe998"/>
<rect x="492.99" y="173.30" width="14.01" height="13.78" fill="#fff8ba"/><rect x="492.99" y="186.78" width="14.01" height="13.78" fill="#fffbc1"/><rect x="492.99" y="200.25" width="14.01" height="13.78" fill="#8a0026"/><rect x="492.99" y="213.73" width="14.01" height="13.78" fill="#ffeea2"/>
</g>
<rect x="54.4" y="173.3" width="452.30" height="53.9" fill="none" stroke="#222" stroke-width="0.7"/>
<line x1="51.8" y1="180.34" x2="54.4" y2="180.34" stroke="#222" stroke-width="0.7"/><text x="32.60" y="183.54" textLength="16.8" lengthAdjust="spacingAndGlyphs" font-size="8.5">EOG</text>
<line x1="51.8" y1="193.81" x2="54.4" y2="193.81" stroke="#222" stroke-width="0.7"/><text x="13.00" y="197.01" textLength="36.4" lengthAdjust="spacingAndGlyphs" font-size="8.5">chin EMG</text>
<line x1="51.8" y1="207.29" x2="54.4" y2="207.29" stroke="#222" stroke-width="0.7"/><text x="10.00" y="210.49" textLength="39.4" lengthAdjust="spacingAndGlyphs" font-size="8.5">EEG Cz-Oz</text>
<line x1="51.8" y1="220.76" x2="54.4" y2="220.76" stroke="#222" stroke-width="0.7"/><text x="7.00" y="223.96" textLength="42.4" lengthAdjust="spacingAndGlyphs" font-size="8.5">EEG Fpz-Cz</text>
<line x1="61.25" y1="227.20000000000002" x2="61.25" y2="229.8" stroke="#222" stroke-width="0.7"/><text x="61.25" y="238.90" text-anchor="middle" font-size="9.0">W</text>
<line x1="74.96" y1="227.20000000000002" x2="74.96" y2="229.8" stroke="#222" stroke-width="0.7"/><text x="74.96" y="238.90" text-anchor="middle" font-size="9.0">1</text>
<line x1="88.67" y1="227.20000000000002" x2="88.67" y2="229.8" stroke="#222" stroke-width="0.7"/><text x="88.67" y="238.90" text-anchor="middle" font-size="9.0">1</text>
<line x1="102.37" y1="227.20000000000002" x2="102.37" y2="229.8" stroke="#222" stroke-width="0.7"/><text x="102.37" y="238.90" text-anchor="middle" font-size="9.0">1</text>
<line x1="116.08" y1="227.20000000000002" x2="116.08" y2="229.8" stroke="#222" stroke-width="0.7"/><text x="116.08" y="238.90" text-anchor="middle" font-size="9.0">W</text>
<line x1="129.78" y1="227.20000000000002" x2="129.78" y2="229.8" stroke="#222" stroke-width="0.7"/><text x="129.78" y="238.90" text-anchor="middle" font-size="9.0">1</text>
<line x1="143.49" y1="227.20000000000002" x2="143.49" y2="229.8" stroke="#222" stroke-width="0.7"/><text x="143.49" y="238.90" text-anchor="middle" font-size="9.0">1</text>
<line x1="157.20" y1="227.20000000000002" x2="157.20" y2="229.8" stroke="#222" stroke-width="0.7"/><text x="157.20" y="238.90" text-anchor="middle" font-size="9.0">1</text>
<line x1="170.90" y1="227.20000000000002" x2="170.90" y2="229.8" stroke="#222" stroke-width="0.7"/><text x="170.90" y="238.90" text-anchor="middle" font-size="9.0">1</text>
<line x1="184.61" y1="227.20000000000002" x2="184.61" y2="229.8" stroke="#222" stroke-width="0.7"/><text x="184.61" y="238.90" text-anchor="middle" font-size="9.0">2</text>
<line x1="198.31" y1="227.20000000000002" x2="198.31" y2="229.8" stroke="#222" stroke-width="0.7"/><text x="198.31" y="238.90" text-anchor="middle" font-size="9.0">2</text>
<line x1="212.02" y1="227.20000000000002" x2="212.02" y2="229.8" stroke="#222" stroke-width="0.7"/><text x="212.02" y="238.90" text-anchor="middle" font-size="9.0">2</text>
<line x1="225.73" y1="227.20000000000002" x2="225.73" y2="229.8" stroke="#222" stroke-width="0.7"/><text x="225.73" y="238.90" text-anchor="middle" font-size="9.0">2</text>
<line x1="239.43" y1="227.20000000000002" x2="239.43" y2="229.8" stroke="#222" stroke-width="0.7"/><text x="239.43" y="238.90" text-anchor="middle" font-size="9.0">2</text>
<line x1="253.14" y1="227.20000000000002" x2="253.14" y2="229.8" stroke="#222" stroke-width="0.7"/><text x="253.14" y="238.90" text-anchor="middle" font-size="9.0">2</text>
<line x1="266.84" y1="227.20000000000002" x2="266.84" y2="229.8" stroke="#222" stroke-width="0.7"/><text x="266.84" y="238.90" text-anchor="middle" font-size="9.0">2</text>
<line x1="280.55" y1="227.20000000000002" x2="280.55" y2="229.8" stroke="#222" stroke-width="0.7"/><text x="280.55" y="238.90" text-anchor="middle" font-size="9.0">2</text>
<line x1="294.26" y1="227.20000000000002" x2="294.26" y2="229.8" stroke="#222" stroke-width="0.7"/><text x="294.26" y="238.90" text-anchor="middle" font-size="9.0">2</text>
<line x1="307.96" y1="227.20000000000002" x2="307.96" y2="229.8" stroke="#222" stroke-width="0.7"/><text x="307.96" y="238.90" text-anchor="middle" font-size="9.0">2</text>
<line x1="321.67" y1="227.20000000000002" x2="321.67" y2="229.8" stroke="#222" stroke-width="0.7"/><text x="321.67" y="238.90" text-anchor="middle" font-size="9.0">2</text>
<line x1="335.37" y1="227.20000000000002" x2="335.37" y2="229.8" stroke="#222" stroke-width="0.7"/><text x="335.37" y="238.90" text-anchor="middle" font-size="9.0">2</text>
<line x1="349.08" y1="227.20000000000002" x2="349.08" y2="229.8" stroke="#222" stroke-width="0.7"/><text x="349.08" y="238.90" text-anchor="middle" font-size="9.0">2</text>
<line x1="362.79" y1="227.20000000000002" x2="362.79" y2="229.8" stroke="#222" stroke-width="0.7"/><text x="362.79" y="238.90" text-anchor="middle" font-size="9.0">2</text>
<line x1="376.49" y1="227.20000000000002" x2="376.49" y2="229.8" stroke="#222" stroke-width="0.7"/><text x="376.49" y="238.90" text-anchor="middle" font-size="9.0">2</text>
<line x1="390.20" y1="227.20000000000002" x2="390.20" y2="229.8" stroke="#222" stroke-width="0.7"/><text x="390.20" y="238.90" text-anchor="middle" font-size="9.0">2</text>
<line x1="403.90" y1="227.20000000000002" x2="403.90" y2="229.8" stroke="#222" stroke-width="0.7"/><text x="403.90" y="238.90" text-anchor="middle" font-size="9.0">2</text>
<line x1="417.61" y1="227.20000000000002" x2="417.61" y2="229.8" stroke="#222" stroke-width="0.7"/><text x="417.61" y="238.90" text-anchor="middle" font-size="9.0">2</text>
<line x1="431.32" y1="227.20000000000002" x2="431.32" y2="229.8" stroke="#222" stroke-width="0.7"/><text x="431.32" y="238.90" text-anchor="middle" font-size="9.0">2</text>
<line x1="445.02" y1="227.20000000000002" x2="445.02" y2="229.8" stroke="#222" stroke-width="0.7"/><text x="445.02" y="238.90" text-anchor="middle" font-size="9.0">2</text>
<line x1="458.73" y1="227.20000000000002" x2="458.73" y2="229.8" stroke="#222" stroke-width="0.7"/><text x="458.73" y="238.90" text-anchor="middle" font-size="9.0">2</text>
<line x1="472.43" y1="227.20000000000002" x2="472.43" y2="229.8" stroke="#222" stroke-width="0.7"/><text x="472.43" y="238.90" text-anchor="middle" font-size="9.0">2</text>
<line x1="486.14" y1="227.20000000000002" x2="486.14" y2="229.8" stroke="#222" stroke-width="0.7"/><text x="486.14" y="238.90" text-anchor="middle" font-size="9.0">2</text>
<line x1="499.85" y1="227.20000000000002" x2="499.85" y2="229.8" stroke="#222" stroke-width="0.7"/><text x="499.85" y="238.90" text-anchor="middle" font-size="9.0">W</text>
</g>
<text x="256.7" y="251.4" textLength="47" lengthAdjust="spacingAndGlyphs" font-size="11">Sleep Stage</text>
<g class="cb"><rect x="512.3" y="24.0" width="11.50" height="203.00" fill="url(#g)" stroke="#222" stroke-width="0.7"/>
<line x1="523.8" y1="52.3" x2="526.4" y2="52.3" stroke="#222" stroke-width="0.7"/><text x="528.1" y="54.60" font-size="6.5">0.8</text>
<line x1="523.8" y1="96.0" x2="526.4" y2="96.0" stroke="#222" stroke-width="0.7"/><text x="528.1" y="98.30" font-size="6.5">0.6</text>
<line x1="523.8" y1="139.8" x2="526.4" y2="139.8" stroke="#222" stroke-width="0.7"/><text x="528.1" y="142.10" font-size="6.5">0.4</text>
<line x1="523.8" y1="183.4" x2="526.4" y2="183.4" stroke="#222" stroke-width="0.7"/><text x="528.1" y="185.70" font-size="6.5">0.2</text>
</g>
</svg>
</body></html>
